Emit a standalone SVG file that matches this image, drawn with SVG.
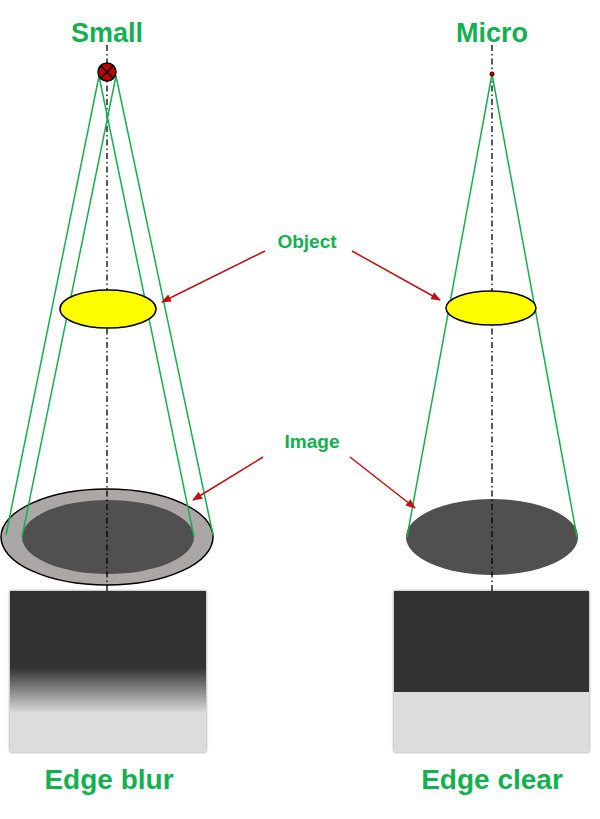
<svg xmlns="http://www.w3.org/2000/svg" width="600" height="819" viewBox="0 0 600 819">
<defs>
<style>
.t{font-family:"Liberation Sans",Arial,sans-serif;font-weight:bold;fill:#1db954;fill:#12b04f;text-anchor:middle}
.g{stroke:#12b04f;stroke-width:1.5;fill:none}
.ax{stroke:#000;stroke-width:1.3;stroke-dasharray:6 3 1.5 3}
.ar{stroke:#c01010;stroke-width:1.5;fill:none;marker-end:url(#a)}
</style>
<marker id="a" markerWidth="10" markerHeight="8" refX="9" refY="4" orient="auto" markerUnits="userSpaceOnUse"><path d="M0,0L10,4L0,8z" fill="#c01010"/></marker>
<linearGradient id="bl" x1="0" y1="0" x2="0" y2="1"><stop offset="0.48" stop-color="#333"/><stop offset="0.62" stop-color="#888"/><stop offset="0.76" stop-color="#dcdcdc"/></linearGradient>
<filter id="sh" x="-5%" y="-5%" width="110%" height="110%"><feGaussianBlur in="SourceAlpha" stdDeviation="1.5"/><feOffset dx="0" dy="0"/><feComponentTransfer><feFuncA type="linear" slope="0.5"/></feComponentTransfer><feMerge><feMergeNode/><feMergeNode in="SourceGraphic"/></feMerge></filter>
</defs>
<g id="left-image">
<ellipse cx="107" cy="537" rx="106" ry="48" fill="#aba7a6" stroke="#000" stroke-width="1.5"/>
<ellipse cx="108" cy="537" rx="86" ry="37" fill="#505050"/>
</g>
<g id="right-image"><ellipse cx="492" cy="537" rx="86" ry="38" fill="#505050"/></g>
<g id="left-box"><rect x="10" y="591" width="196" height="161" fill="url(#bl)" filter="url(#sh)"/></g>
<g id="right-box" filter="url(#sh)"><rect x="394" y="591" width="195" height="101" fill="#333"/><rect x="394" y="692" width="195" height="60" fill="#dcdcdc"/></g>
<g id="connectors">
<line class="ax" x1="107" y1="45" x2="107" y2="591"/>
<line class="ax" x1="492" y1="45" x2="492" y2="591"/>
<path class="g" d="M99,76L6,535M116,76L213,535M116,76L22,537M99,76L194,537"/>
<path class="g" d="M492,74L407,537M492,74L577,537"/>
<path class="ar" d="M265,251L162,302"/>
<path class="ar" d="M352,251L440,300"/>
<path class="ar" d="M263,457L193,500"/>
<path class="ar" d="M350,457L415,508"/>
</g>
<g id="left-object"><ellipse cx="108" cy="309" rx="48" ry="19" fill="#ffff00" stroke="#000" stroke-width="1.5"/></g>
<g id="right-object"><ellipse cx="491" cy="308" rx="45" ry="17" fill="#ffff00" stroke="#000" stroke-width="1.5"/></g>
<g id="left-source"><circle cx="107" cy="72" r="9" fill="#c00000" stroke="#000" stroke-width="1.5"/><path d="M101,66L113,78M113,66L101,78" stroke="#000" stroke-width="1.5"/></g>
<g id="right-source"><circle cx="492" cy="74" r="2.5" fill="#8b0000"/></g>
<text class="t" x="107" y="42" font-size="27">Small</text>
<text class="t" x="492" y="42" font-size="27">Micro</text>
<text class="t" x="307" y="248" font-size="19">Object</text>
<text class="t" x="312" y="448" font-size="19">Image</text>
<text class="t" x="109" y="789" font-size="28">Edge blur</text>
<text class="t" x="492" y="789" font-size="28">Edge clear</text>
</svg>
